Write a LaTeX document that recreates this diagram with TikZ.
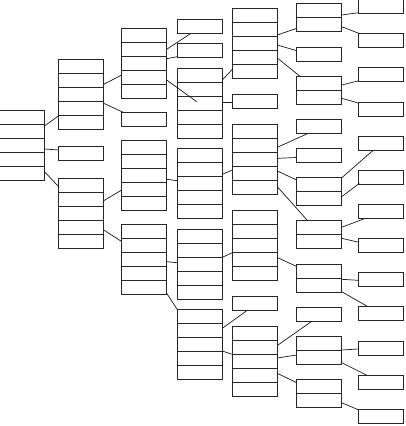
\documentclass[tikz,border=0pt]{standalone}
\usetikzlibrary{calc}
\tikzset{
  box/.style={draw=black!85, line width=0.8pt, inner sep=0pt, outer sep=0pt, minimum width=45pt},
  div/.style={draw=black!85, line width=0.8pt},
  ptr/.style={draw=black!90, line width=0.7pt}
}
\newcommand\mkstack[4]{%
  \node[box, minimum height={#4*14pt}, anchor=north west] (#1) at ({#2},{#3}) {};
  \ifnum#4>1
    \foreach \k in {2,...,#4}{\draw[div] ($(#1.north west)+(0,{(\k-1)*14})$) -- ($(#1.north east)+(0,{(\k-1)*14})$);}
  \fi}
\newcommand\mklink[5]{%
  \draw[ptr] ($(#1.north east)+(0,#2)$) -- ($(#3.north west)+(#4,#5)$);}
\begin{document}
\begin{tikzpicture}[x=1pt,y=-1pt]
\useasboundingbox (0,0) rectangle (405,426);
% column 0
\mkstack{R}{-0.5}{110.3}{5}
% column 1
\mkstack{A1}{58.7}{59.3}{5}
\mkstack{A2}{58.7}{146.3}{1}
\mkstack{A3}{58.7}{178.3}{5}
% column 2
\mkstack{B1}{121.7}{28.3}{5}
\mkstack{B2}{121.7}{112.3}{1}
\mkstack{B3}{121.7}{140.3}{5}
\mkstack{B4}{121.7}{224.3}{5}
% column 3
\mkstack{C1}{177.3}{19.3}{1}
\mkstack{C2}{177.3}{43.3}{1}
\mkstack{C3}{177.3}{68.3}{5}
\mkstack{C4}{177.3}{148.3}{5}
\mkstack{C5}{177.3}{229}{5}
\mkstack{C6}{177.3}{309.3}{5}
% column 4
\mkstack{D1}{232.3}{8.3}{5}
\mkstack{D2}{232.3}{94.3}{1}
\mkstack{D3}{232.3}{124.3}{5}
\mkstack{D4}{232.3}{210.3}{5}
\mkstack{D5}{232.3}{296.3}{1}
\mkstack{D6}{232.3}{326.3}{5}
% column 5
\mkstack{E1}{296.7}{3.7}{2}
\mkstack{E2}{296.7}{47.3}{1}
\mkstack{E3}{296.7}{76.3}{2}
\mkstack{E4}{296.7}{119.3}{1}
\mkstack{E5}{296.7}{148.3}{1}
\mkstack{E6}{296.7}{177.3}{2}
\mkstack{E7}{296.7}{220.3}{2}
\mkstack{E8}{296.7}{264}{2}
\mkstack{E9}{296.7}{307.3}{1}
\mkstack{E10}{296.7}{336.3}{2}
\mkstack{E11}{296.7}{379.3}{2}
% column 6
\foreach \i in {1,...,13}{\mkstack{F\i}{358.3}{-0.4+34.14*(\i-1)}{1}}
% connectors
\mklink{R}{15.7}{A1}{0}{56.4}
\mklink{R}{38.7}{A2}{0}{3.7}
\mklink{R}{61.4}{A3}{0}{8.4}
\mklink{A1}{25}{B1}{0}{46.7}
\mklink{A1}{44}{B2}{1.6}{0}
\mklink{A3}{22.4}{B3}{0}{49.7}
\mklink{A3}{51.7}{B4}{0}{17.2}
\mklink{B1}{21}{C1}{13.7}{14}
\mklink{B1}{30.4}{C2}{0}{13.4}
\mklink{B1}{51.7}{C3}{19.4}{33.4}
\mklink{B3}{39}{C4}{0}{32.4}
\mklink{B4}{37.4}{C5}{0}{33.7}
\mklink{B4}{69}{C6}{0}{0.2}
\mklink{C3}{11.7}{D1}{0}{61}
\mklink{C3}{34.4}{D2}{0}{8.4}
\mklink{C4}{26}{D3}{0}{45.7}
\mklink{C5}{28.3}{D4}{0}{42.4}
\mklink{C6}{19}{D5}{15}{14}
\mklink{C6}{41.7}{D6}{0}{28}
\mklink{D1}{26.7}{E1}{0}{24.6}
\mklink{D1}{36.7}{E2}{0}{3.4}
\mklink{D1}{49.7}{E3}{3.3}{0}
\mklink{D3}{23}{E4}{11.6}{14}
\mklink{D3}{34}{E5}{0}{9.2}
\mklink{D3}{46.7}{E6}{0}{2.7}
\mklink{D3}{62.4}{E7}{10.6}{0}
\mklink{D4}{47.2}{E8}{0}{2.5}
\mklink{D6}{19.2}{E9}{15}{14}
\mklink{D6}{31.7}{E10}{0}{18.7}
\mklink{D6}{47}{E11}{0}{3.4}
\mklink{E1}{11.3}{F1}{0}{13.1}
\mklink{E1}{23}{F2}{1.7}{0}
\mklink{E3}{8.7}{F3}{0}{13}
\mklink{E3}{22}{F4}{0}{1}
\mklink{E6}{0.5}{F5}{15}{14}
\mklink{E6}{19.4}{F6}{1}{13.1}
\mklink{E7}{7}{F7}{6.7}{14}
\mklink{E7}{18}{F8}{0}{3.6}
\mklink{E8}{15.3}{F9}{0}{7.6}
\mklink{E8}{27.7}{F10}{10}{0}
\mklink{E10}{13.7}{F11}{0}{8}
\mklink{E10}{26.4}{F12}{8.4}{0}
\mklink{E11}{23.4}{F13}{0}{0.5}
\end{tikzpicture}
\end{document}
